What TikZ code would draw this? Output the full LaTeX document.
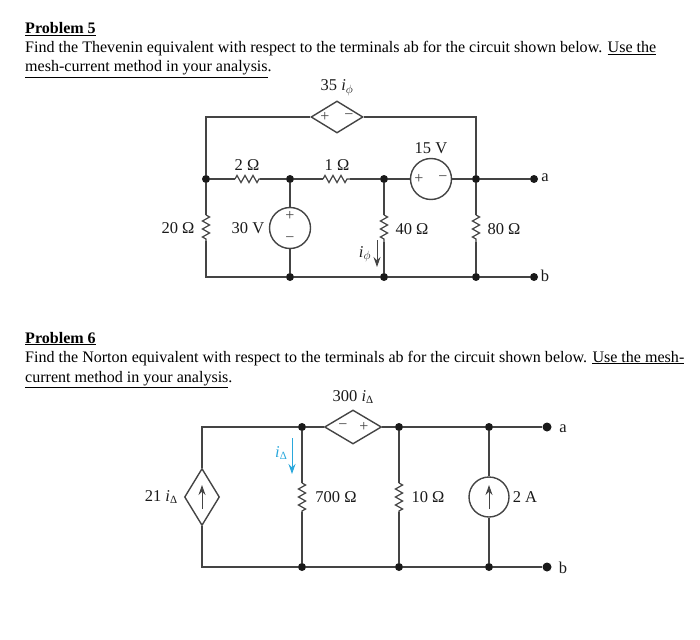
\documentclass[tikz,border=0pt]{standalone}
\usepackage{fontspec}
\setmainfont{Liberation Serif}
\usetikzlibrary{arrows.meta, decorations.pathmorphing, positioning, shapes.geometric}
\definecolor{wirecol}{HTML}{444444}
\definecolor{inkcol}{HTML}{1A1A1A}
\definecolor{bluecol}{HTML}{2AA8DC}
\newcommand{\iphi}{\textit{i}$_{\scriptstyle\phi}$}
\newcommand{\idel}{\textit{i}\raisebox{-2.5pt}{\fontsize{11}{11}\selectfont Δ}}
\tikzset{
  wire/.style={draw=wirecol,line width=1.2pt},
  res/.style={wire,decorate,decoration={zigzag,segment length=8pt,amplitude=3.6pt}},
  dot/.style={circle,fill=inkcol,inner sep=0pt,minimum size=8pt},
  source/.style={circle,draw=wirecol,line width=1.4pt,inner sep=0pt,minimum size=41pt},
  dep/.style={diamond,draw=wirecol,line width=1.4pt,inner sep=0pt},
  lab/.style={font=\fontsize{16.5}{18}\selectfont,text=inkcol,inner sep=0pt},
  sign/.style={font=\fontsize{16}{16}\selectfont,text=wirecol,inner sep=0pt},
  txt/.style={font=\fontsize{16.05}{18}\selectfont,text=black,inner sep=0pt,anchor=base west},
  pointer/.style={-{Stealth[length=10pt,width=7pt]},line width=1pt}
}
\begin{document}
\begin{tikzpicture}[x=1pt,y=-1pt]
\useasboundingbox (0,0) rectangle (700,639);
% problem text
\node[txt] (head5) at (25,34) {\textbf{\underline{Problem 5}}};
\node[txt] (line5a) at (25,53) {Find the Thevenin equivalent with respect to the terminals ab for the circuit shown below. \underline{Use the}};
\node[txt] (line5b) at (25,72) {\underline{mesh-current method in your analysis}.};
\node[txt] (head6) at (25,343) {\textbf{\underline{Problem 6}}};
\node[txt] (line6a) at (25,362) {Find the Norton equivalent with respect to the terminals ab for the circuit shown below. \underline{Use the mesh-}};
\node[txt] (line6b) at (25,382) {\underline{current method in your analysis}.};
% first circuit
\node[dot] (n1) at (206,179) {};
\node[dot] (n2) at (290,179) {};
\node[dot] (n3) at (384,179) {};
\node[dot] (n4) at (476,179) {};
\node[dot] (ta) at (534,179) {};
\node[dot] (m2) at (290,277) {};
\node[dot] (m3) at (384,277) {};
\node[dot] (m4) at (476,277) {};
\node[dot] (tb) at (534,277) {};
\coordinate (cTL) at (206,117);
\coordinate (cTR) at (476,117);
\coordinate (cBL) at (206,277);
\node[dep,minimum width=52pt,minimum height=32pt] (vc) at (337,117) {};
\node[source] (v15) at (431,179) {};
\node[source] (v30) at (290,228) {};
\coordinate (r2a) at (235,179);
\coordinate (r2b) at (260,179);
\coordinate (r1a) at (323,179);
\coordinate (r1b) at (350,179);
\coordinate (r20a) at (206,215);
\coordinate (r20b) at (206,241);
\coordinate (r40a) at (384,215);
\coordinate (r40b) at (384,242);
\coordinate (r80a) at (476,215);
\coordinate (r80b) at (476,242);
\draw[wire] (n1) -- (cTL) -- (vc.west);
\draw[wire] (vc.east) -- (cTR) -- (n4);
\draw[wire] (n1) -- (r2a) (r2b) -- (n2) -- (r1a) (r1b) -- (n3) -- (v15.west);
\draw[wire] (v15.east) -- (n4) -- (ta);
\draw[res] (r2a) -- (r2b);
\draw[res] (r1a) -- (r1b);
\draw[wire] (n1) -- (r20a) (r20b) -- (cBL) -- (m2) -- (m3) -- (m4) -- (tb);
\draw[res] (r20a) -- (r20b);
\draw[wire] (n2) -- (v30.north) (v30.south) -- (m2);
\draw[wire] (n3) -- (r40a) (r40b) -- (m3);
\draw[res] (r40a) -- (r40b);
\draw[wire] (n4) -- (r80a) (r80b) -- (m4);
\draw[res] (r80a) -- (r80b);
\node[sign] (vcp) at (325,117) {+};
\node[sign] (vcm) at (349,117) {−};
\node[sign] (v15p) at (419,179) {+};
\node[sign] (v15m) at (443,179) {−};
\node[sign] (v30p) at (290,216) {+};
\node[sign] (v30m) at (290,240) {−};
\node[lab] (l35) at (337,88) {35 \iphi};
\node[lab] (l15) at (431,148) {15 V};
\node[lab] (l2) at (247,165) {2 Ω};
\node[lab] (l1) at (337,165) {1 Ω};
\node[lab] (l20) at (178,228) {20 Ω};
\node[lab] (l30) at (248,228) {30 V};
\node[lab] (l40) at (412,229) {40 Ω};
\node[lab] (l80) at (504,229) {80 Ω};
\node[lab] (liphi) at (365,254) {\iphi};
\coordinate (aphiA) at (377,240);
\coordinate (aphiB) at (377,267);
\draw[pointer,wirecol] (aphiA) -- (aphiB);
\node[lab] (la) at (545,178) {a};
\node[lab] (lb) at (545,276) {b};
% second circuit
\node[dot] (p2) at (302,427) {};
\node[dot] (p3) at (399,427) {};
\node[dot] (p4) at (489,427) {};
\node[dot,minimum size=9pt] (sa) at (547,427) {};
\node[dot] (q2) at (302,567) {};
\node[dot] (q3) at (399,567) {};
\node[dot] (q4) at (489,567) {};
\node[dot,minimum size=9pt] (sb) at (547,567) {};
\coordinate (dTL) at (202,427);
\coordinate (dBL) at (202,567);
\node[dep,minimum width=57pt,minimum height=34pt] (vd) at (353,427) {};
\node[dep,minimum width=35pt,minimum height=57pt] (id) at (202,497) {};
\node[source,minimum size=40pt] (i2) at (489,497) {};
\coordinate (r7a) at (302,483);
\coordinate (r7b) at (302,512);
\coordinate (r10a) at (399,483);
\coordinate (r10b) at (399,512);
\draw[wire] (id.north) -- (dTL) -- (p2) -- (vd.west);
\draw[wire] (vd.east) -- (p3) -- (p4) -- (sa);
\draw[wire] (id.south) -- (dBL) -- (q2) -- (q3) -- (q4) -- (sb);
\draw[wire] (p2) -- (r7a) (r7b) -- (q2);
\draw[res] (r7a) -- (r7b);
\draw[wire] (p3) -- (r10a) (r10b) -- (q3);
\draw[res] (r10a) -- (r10b);
\draw[wire] (p4) -- (i2.north) (i2.south) -- (q4);
\coordinate (aidA) at (202,509);
\coordinate (aidB) at (202,485);
\draw[pointer,wirecol] (aidA) -- (aidB);
\coordinate (ai2A) at (489,509);
\coordinate (ai2B) at (489,485);
\draw[pointer,wirecol] (ai2A) -- (ai2B);
\coordinate (adelA) at (292,438);
\coordinate (adelB) at (292,474);
\draw[pointer,bluecol] (adelA) -- (adelB);
\node[sign] (vdm) at (343,427) {−};
\node[sign] (vdp) at (364,427) {+};
\node[lab] (l300) at (353,397) {300 \idel};
\node[lab] (l21) at (161,497) {21 \idel};
\node[lab,text=bluecol] (lidel) at (281,453) {\idel};
\node[lab] (l700) at (336,497) {700 Ω};
\node[lab] (l10) at (428,497) {10 Ω};
\node[lab] (l2a) at (525,497) {2 A};
\node[lab] (sla) at (563,429) {a};
\node[lab] (slb) at (563,568) {b};
\end{tikzpicture}
\end{document}
